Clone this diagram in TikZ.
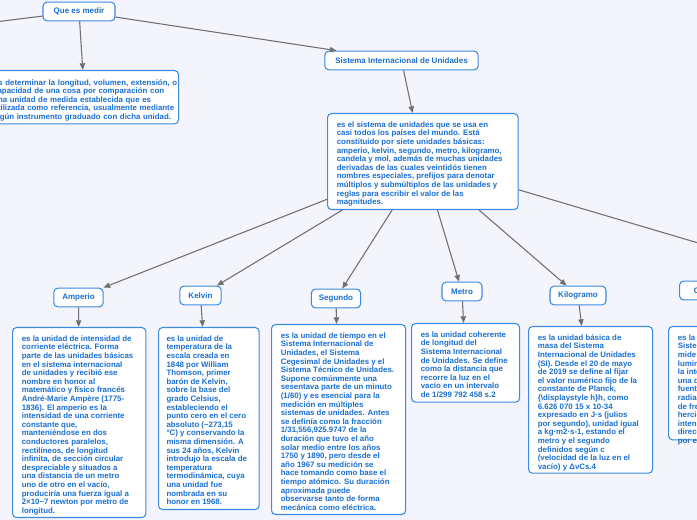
\documentclass[tikz,border=0pt]{standalone}
\usepackage{fontspec}
\setmainfont{Liberation Sans}
\usetikzlibrary{arrows.meta}
\definecolor{bg}{HTML}{F3F4FC}
\definecolor{bd}{HTML}{3D8BE0}
\definecolor{tx}{HTML}{1A6FD0}
\definecolor{ln}{HTML}{707070}
\tikzset{
 box/.style={draw=bd,line width=0.8pt,rounded corners=3pt,fill=white,text=tx,font=\bfseries\fontsize{5.9}{6.45}\selectfont,align=left,anchor=north west,inner sep=0pt},
 ttl/.style={draw=bd,line width=0.8pt,rounded corners=3pt,fill=white,text=tx,font=\bfseries\fontsize{6}{7}\selectfont,inner sep=0pt},
 con/.style={draw=ln,line width=0.8pt,-{Triangle[length=5pt,width=4pt]}}
}
\begin{document}
\begin{tikzpicture}[x=0.75pt,y=-0.75pt]
\fill[bg] (0,0) rectangle (697,520);
\clip (0,0) rectangle (697,520);
% titles
\node[ttl,minimum width=54pt,minimum height=14pt] (q) at (79,11.5) {Que es medir};
\node[ttl,minimum width=115pt,minimum height=14pt] (siu) at (401.5,60.5) {Sistema Internacional de Unidades};
\node[ttl,minimum width=37pt,minimum height=14pt] (amp) at (78.5,297.5) {Amperio};
\node[ttl,minimum width=31pt,minimum height=14pt] (kel) at (200.5,295.5) {Kelvin};
\node[ttl,minimum width=37pt,minimum height=14pt] (seg) at (336,298.5) {Segundo};
\node[ttl,minimum width=30pt,minimum height=14pt] (met) at (462,291.5) {Metro};
\node[ttl,minimum width=42pt,minimum height=14pt] (kil) at (578,295.5) {Kilogramo};
\node[ttl,minimum width=42pt,minimum height=14pt,anchor=west] (can) at (679,290.5) {\hspace*{3pt}Candela\hfill};
% descriptions
\node[box,minimum width=141pt,minimum height=40pt,text width=141pt] (d0) at (-10,70) {\rule{0pt}{9pt}\hspace*{2pt}Es determinar la longitud, volumen, extensión, o\\\hspace*{2pt}capacidad de una cosa por comparación con\\\hspace*{2pt}una unidad de medida establecida que es\\\hspace*{2pt}utilizada como referencia, usualmente mediante\\\hspace*{2pt}algún instrumento graduado con dicha unidad.};
\node[box,minimum width=143pt,minimum height=72pt] (dm) at (327,113) {\begin{minipage}[t][72pt][t]{143pt}\vspace{6pt}\leftskip=7pt
es el sistema de unidades que se usa en\\casi todos los países del mundo. Está\\constituido por siete unidades básicas:\\amperio, kelvin, segundo, metro, kilogramo,\\candela y mol, además de muchas unidades\\derivadas de las cuales veintidós tienen\\nombres especiales, prefijos para denotar\\múltiplos y submúltiplos de las unidades y\\reglas para escribir el valor de las\\magnitudes.\end{minipage}};
\node[box] (da) at (12,327) {\begin{minipage}[t][142.5pt][t]{100pt}\vspace{6pt}\leftskip=7pt
es la unidad de intensidad de\\corriente eléctrica. Forma\\parte de las unidades básicas\\en el sistema internacional\\de unidades y recibió ese\\nombre en honor al\\matemático y físico francés\\André-Marie Ampère (1775-\\1836). El amperio es la\\intensidad de una corriente\\constante que,\\manteniéndose en dos\\conductores paralelos,\\rectilíneos, de longitud\\infinita, de sección circular\\despreciable y situados a\\una distancia de un metro\\uno de otro en el vacío,\\produciría una fuerza igual a\\2×10−7 newton por metro de\\longitud.\end{minipage}};
\node[box] (dk) at (158,327) {\begin{minipage}[t][136.5pt][t]{75.5pt}\vspace{6pt}\leftskip=6pt
es la unidad de\\temperatura de la\\escala creada en\\1848 por William\\Thomson, primer\\barón de Kelvin,\\sobre la base del\\grado Celsius,\\estableciendo el\\punto cero en el cero\\absoluto (−273,15\\°C) y conservando la\\misma dimensión. A\\sus 24 años, Kelvin\\introdujo la escala de\\temperatura\\termodinámica, cuya\\una unidad fue\\nombrada en su\\honor en 1968.\end{minipage}};
\node[box] (ds) at (271,324) {\begin{minipage}[t][142.5pt][t]{100.5pt}\vspace{6pt}\leftskip=7pt
es la unidad de tiempo en el\\Sistema Internacional de\\Unidades, el Sistema\\Cegesimal de Unidades y el\\Sistema Técnico de Unidades.\\Supone comúnmente una\\sesentava parte de un minuto\\(1/60) y es esencial para la\\medición en múltiples\\sistemas de unidades. Antes\\se definía como la fracción\\1/31,556,925.9747 de la\\duración que tuvo el año\\solar medio entre los años\\1750 y 1890, pero desde el\\año 1967 su medición se\\hace tomando como base el\\tiempo atómico. Su duración\\aproximada puede\\observarse tanto de forma\\mecánica como eléctrica.\end{minipage}};
\node[box] (dt) at (411,323) {\begin{minipage}[t][59pt][t]{81pt}\vspace{6pt}\leftskip=7pt
es la unidad coherente\\de longitud del\\Sistema Internacional\\de Unidades. Se define\\como la distancia que\\recorre la luz en el\\vacío en un intervalo\\de 1/299 792 458 s.2\end{minipage}};
\node[box] (dg) at (528,326) {\begin{minipage}[t][110pt][t]{93pt}\vspace{6pt}\leftskip=7pt
es la unidad básica de\\masa del Sistema\\Internacional de Unidades\\(SI). Desde el 20 de mayo\\de 2019 se define al fijar\\el valor numérico fijo de la\\constante de Planck,\\\{\textbackslash displaystyle h\}h, como\\6.626 070 15 x 10-34\\expresado en J·s (julios\\por segundo), unidad igual\\a kg·m2·s-1, estando el\\metro y el segundo\\definidos según c\\(velocidad de la luz en el\\vacío) y ΔνCs.4\end{minipage}};
\node[box] (dc) at (668,326) {\begin{minipage}[t][85pt][t]{100pt}\vspace{6pt}\leftskip=7pt
es la unidad básica del\\Sistema Internacional que\\mide la intensidad\\luminosa. Se define como\\la intensidad luminosa en\\una dirección dada, de una\\fuente que emite una\\radiación monocromática\\de frecuencia 540×1012\\hercios y de la cual la\\intensidad radiada en esa\\dirección es 1/683 vatios\\por estereorradián.\end{minipage}};
% connectors
\coordinate (lft) at (-5,22);
\draw[draw=ln,line width=0.8pt] (q) -- (lft);
\draw[con] (q) -- (d0);
\draw[con] (q) -- (siu);
\draw[con] (siu) -- (dm);
\draw[con] (dm) -- (amp);
\draw[con] (dm) -- (kel);
\draw[con] (dm) -- (seg);
\draw[con] (dm) -- (met);
\draw[con] (dm) -- (kil);
\coordinate (cr) at (705,245);
\draw[draw=ln,line width=0.8pt] (dm) -- (cr);
\draw[con] (amp) -- (da);
\draw[con] (kel) -- (dk);
\draw[con] (seg) -- (ds);
\draw[con] (met) -- (dt);
\draw[con] (kil) -- (dg);
\draw[con] (can) -- (dc);
\end{tikzpicture}
\end{document}
